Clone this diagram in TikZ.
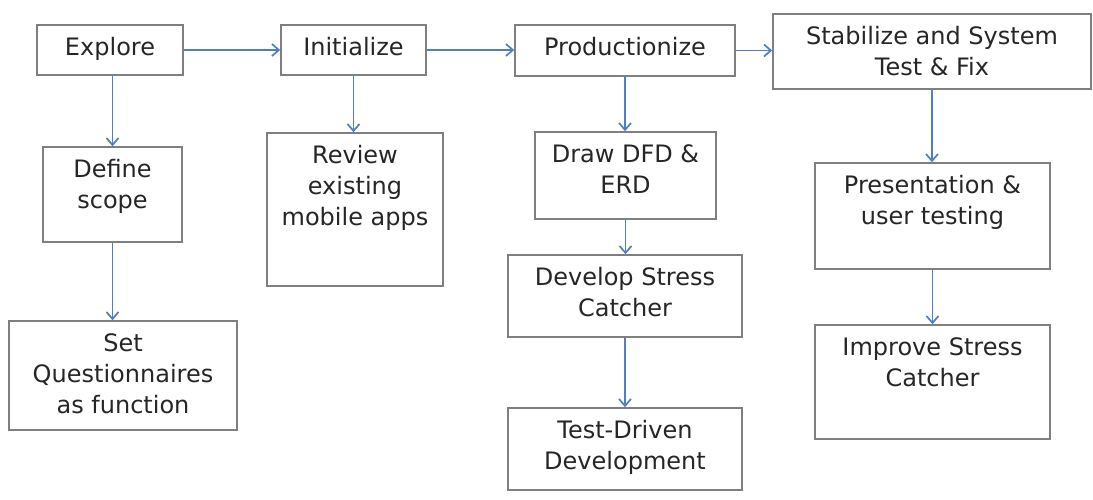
\documentclass[tikz,border=0pt]{standalone}
\usepackage{fontspec}
\setmainfont{DejaVu Sans}
\usetikzlibrary{arrows.meta}
\definecolor{boxgray}{HTML}{7F7F7F}
\definecolor{arrblue}{HTML}{4F7EC4}
\definecolor{txtgray}{HTML}{262626}
\tikzset{
  stepbox/.style={draw=boxgray, line width=1.5pt, fill=white, inner sep=0pt},
  steptxt/.style={anchor=north, inner sep=0pt, align=center, text=txtgray,
    font=\fontsize{24}{31}\selectfont},
  arr/.style={draw=arrblue, line width=1.7pt, -{Straight Barb[length=7pt,width=12pt,line width=1.7pt]}},
}
\newcommand{\mybox}[6]{%
  \node[stepbox, minimum width={#4-#2}, minimum height={#5-#3}] (#1) at ({(#2+#4)/2},{(#3+#5)/2}) {};
  \node[steptxt] (#1-t) at ([yshift=-11pt]#1.north) {\rule{0pt}{20pt}#6};
}
\begin{document}
\begin{tikzpicture}[x=1pt,y=-1pt]
\useasboundingbox[fill=white] (0,0) rectangle (1093,499);
\mybox{explore}{37}{25}{183}{75}{Explore}
\mybox{init}{281}{25}{426}{75}{Initialize}
\mybox{prod}{515}{25}{735}{76}{Productionize}
\mybox{stab}{773}{14}{1091}{89}{Stabilize and System\\Test \& Fix}
\mybox{define}{43}{147}{182}{242}{Define\\scope}
\mybox{review}{267}{133}{443}{286}{Review\\existing\\mobile apps}
\mybox{dfd}{535}{132}{716}{219}{Draw DFD \&\\ERD}
\mybox{develop}{508}{255}{742}{337}{Develop Stress\\Catcher}
\mybox{tdd}{508}{408}{742}{490}{Test-Driven\\Development}
\mybox{present}{815}{163}{1050}{269}{Presentation \&\\user testing}
\mybox{improve}{815}{325}{1050}{439}{Improve Stress\\Catcher}
\mybox{setq}{9}{321}{237}{430}{Set\\Questionnaires\\as function}
% horizontal connectors
\draw[arr] (explore.east) -- (explore.east -| init.west);
\draw[arr] (init.east) -- (init.east -| prod.west);
\draw[arr] (prod.east) -- (prod.east -| stab.west);
% vertical connectors
\draw[arr] (explore.south -| define.north) -- (define.north);
\draw[arr] (define.south) -- (define.south |- setq.north);
\draw[arr] (init.south) -- (init.south |- review.north);
\draw[arr] (prod.south) -- (prod.south |- dfd.north);
\draw[arr] (dfd.south) -- (dfd.south |- develop.north);
\draw[arr] (develop.south) -- (develop.south |- tdd.north);
\draw[arr] (stab.south) -- (stab.south |- present.north);
\draw[arr] (present.south) -- (present.south |- improve.north);
\end{tikzpicture}
\end{document}
